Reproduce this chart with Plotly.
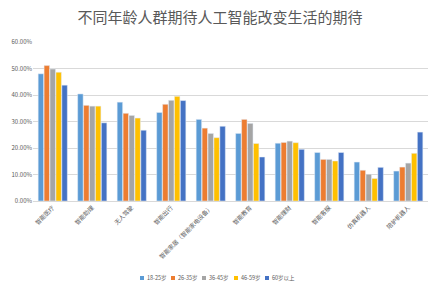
import plotly.graph_objects as go

categories = ["智能医疗", "智能助理", "无人驾驶", "智能出行", "智能家居（智能家电设备）",
              "智能教育", "智能理财", "智能客服", "仿真机器人", "陪护机器人"]
series_names = ["18-25岁", "26-35岁", "36-45岁", "46-59岁", "60岁以上"]
s1 = [0.480, 0.404, 0.373, 0.334, 0.308, 0.255, 0.218, 0.183, 0.147, 0.113]
s2 = [0.511, 0.361, 0.331, 0.365, 0.275, 0.308, 0.221, 0.157, 0.116, 0.128]
s3 = [0.498, 0.358, 0.323, 0.380, 0.255, 0.293, 0.226, 0.157, 0.101, 0.143]
s4 = [0.486, 0.358, 0.313, 0.395, 0.239, 0.217, 0.220, 0.151, 0.085, 0.180]
s5 = [0.437, 0.295, 0.267, 0.379, 0.282, 0.166, 0.195, 0.183, 0.127, 0.260]
colors = ["#5B9BD5", "#ED7D31", "#A5A5A5", "#FFC000", "#4472C4"]

W, H = 440, 292
ML, MR, MT, MB = 33, 12, 42, 91
PW, PH = W - ML - MR, H - MT - MB

fig = go.Figure()
for name, vals, c in zip(series_names, [s1, s2, s3, s4, s5], colors):
    fig.add_trace(go.Bar(x=categories, y=vals, name=name, marker_color=c,
                         showlegend=False))

# compact legend row (Excel style) at the bottom
legend_px = [142, 173, 204, 236, 267]
legend_py = 278
for px, name, c in zip(legend_px, series_names, colors):
    x0 = (px - 2 - ML) / PW
    x1 = (px + 2 - ML) / PW
    y0 = (H - MB - (legend_py + 2)) / PH
    y1 = (H - MB - (legend_py - 2)) / PH
    fig.add_shape(type="rect", xref="paper", yref="paper", x0=x0, x1=x1, y0=y0, y1=y1,
                  fillcolor=c, line=dict(width=0))
    fig.add_annotation(xref="paper", yref="paper", x=(px + 3 - ML) / PW,
                       y=(H - MB - legend_py) / PH, text=name, showarrow=False,
                       xanchor="left", yanchor="middle", font=dict(size=5.5, color="#595959"))

fig.update_layout(
    width=W, height=H,
    paper_bgcolor="white", plot_bgcolor="white",
    margin=dict(l=ML, r=MR, t=MT, b=MB, autoexpand=False),
    font=dict(family="Noto Sans CJK SC", size=6, color="#595959"),
    title=dict(text="不同年龄人群期待人工智能改变生活的期待", x=0.5, xanchor="center",
               y=0.94, yanchor="middle", font=dict(size=15, color="#595959")),
    barmode="group", bargap=0.25, bargroupgap=0.08,
    showlegend=False,
)
fig.update_yaxes(range=[0, 0.6], dtick=0.1, tickformat=".2%", gridcolor="#D9D9D9",
                 zeroline=False, showline=False, ticks="", automargin=False)
fig.update_xaxes(tickangle=-45, showline=True, linecolor="#D9D9D9", ticks="",
                 automargin=False)
fig.write_html("out.html")
